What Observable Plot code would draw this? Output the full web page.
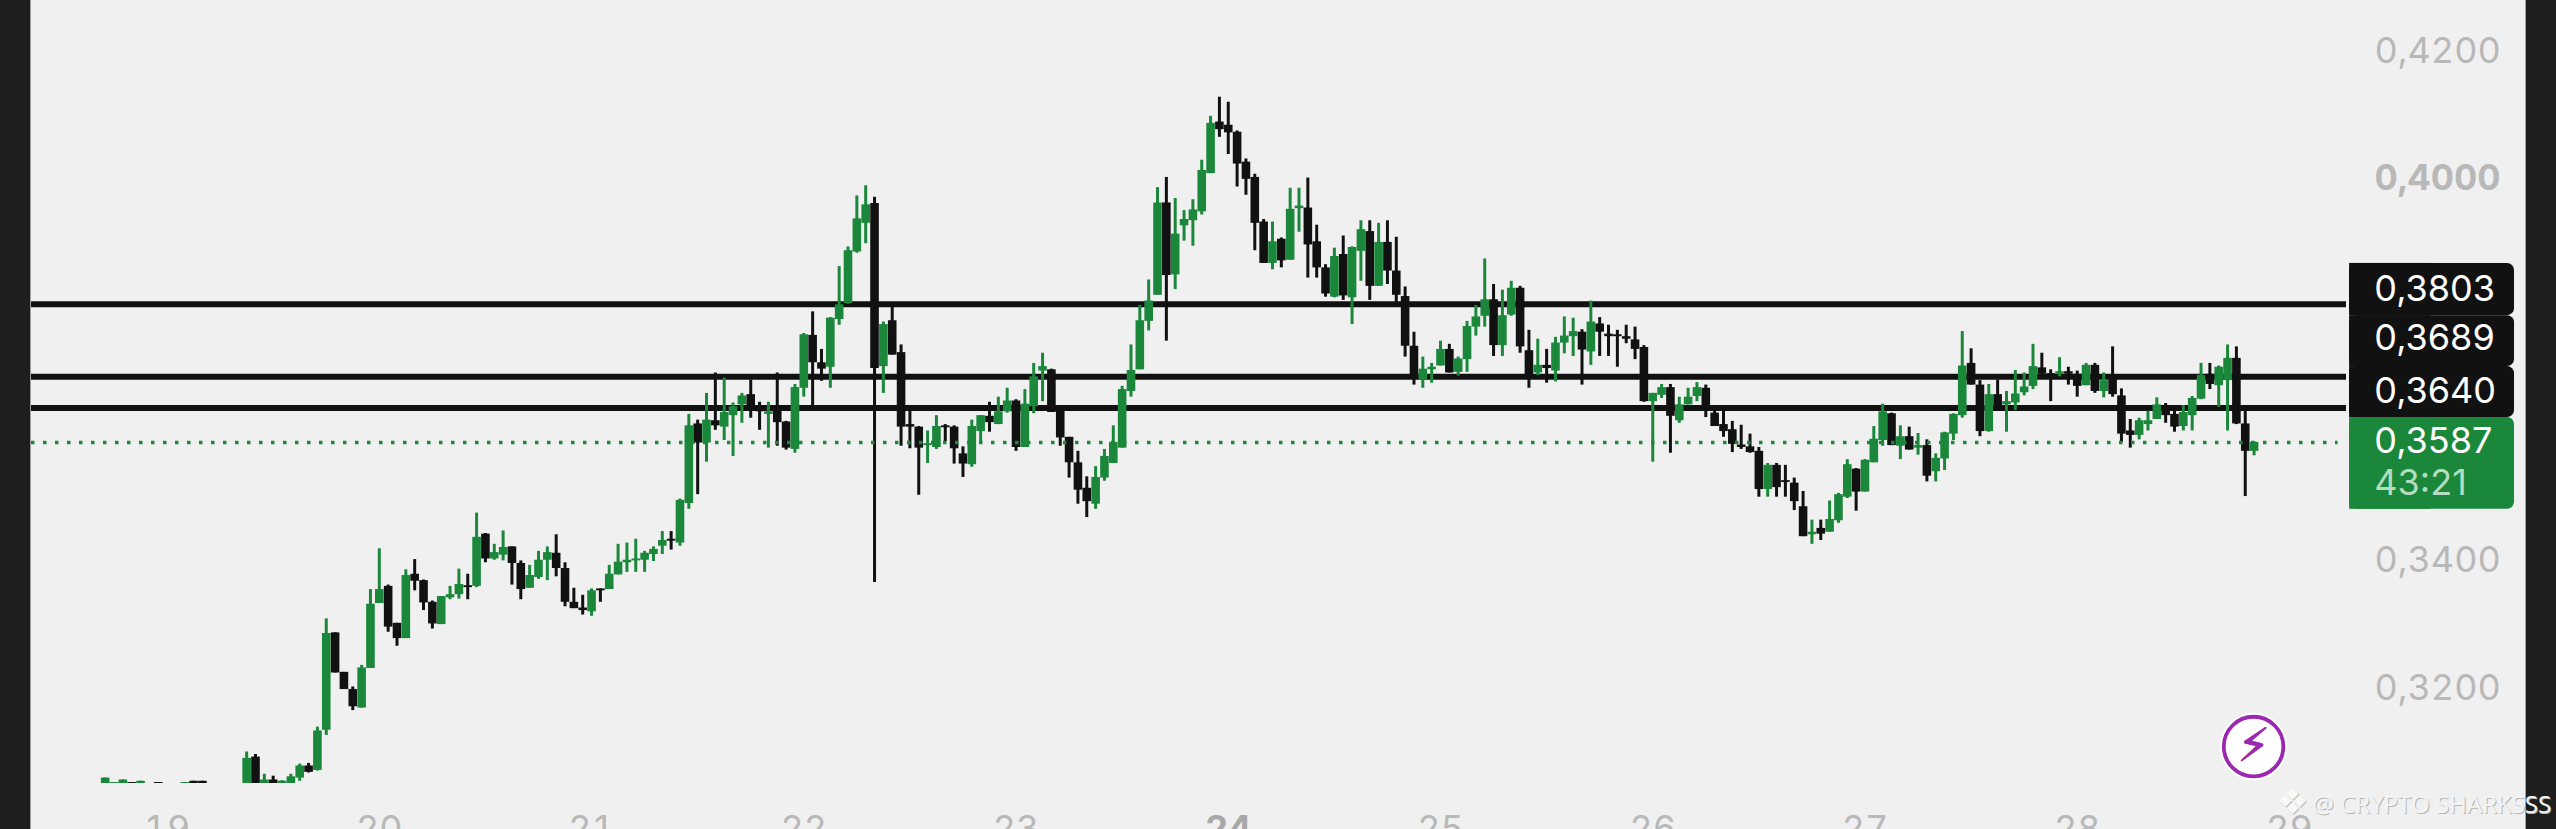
<!DOCTYPE html>
<html>
<head>
<meta charset="utf-8">
<style>html,body{margin:0;padding:0;background:#f0f0f0;overflow:hidden}svg{display:block}</style>
<script src="https://cdn.jsdelivr.net/npm/d3@7"></script>
<script src="https://cdn.jsdelivr.net/npm/@observablehq/plot@0.6"></script>
</head>
<body>
<div id="chart"></div>
<script>
// hours since the start of day 19
const hours = [-7,-6,-5,-4,-3,-1,2,3,4, ...d3.range(9,237)];
// prices in ten-thousandths
const opens = [3040,3040,3040,3052,3040,3052,3040,3054,3054,
3045,3092,3048,3056,3048,3047,3059,3078,3071,3134,
3287,3225,3198,3169,3231,3333,3360,3302,3278,3379,
3369,3335,3300,3342,3347,3361,3360,3442,3403,3409,
3422,3396,3357,3374,3401,3412,3388,3335,3326,3320,
3356,3355,3378,3397,3400,3401,3410,3423,3434,3428,
3490,3615,3585,3620,3610,3628,3645,3661,3642,3630,
3643,3618,3575,3671,3754,3711,3704,3779,3804,3885,
3930,3961,3705,3777,3727,3614,3610,3581,3578,3612,
3610,3568,3551,3603,3627,3614,3634,3651,3578,3642,
3698,3700,3636,3594,3554,3514,3489,3530,3553,3577,
3666,3700,3776,3817,3962,3849,3926,3934,3948,4008,
4089,4084,4073,4026,4002,3932,3867,3905,3872,3953,
3954,3901,3860,3814,3881,3813,3886,3917,3831,3900,
3855,3815,3737,3684,3700,3706,3732,3696,3716,3767,
3784,3810,3738,3786,3828,3730,3695,3707,3698,3742,
3752,3759,3728,3772,3756,3755,3752,3747,3735,3650,
3660,3672,3620,3645,3658,3671,3632,3614,3606,3582,
3579,3572,3512,3550,3526,3522,3485,3441,3451,3445,
3463,3500,3544,3508,3554,3589,3631,3580,3595,3577,
3581,3540,3560,3599,3628,3710,3676,3603,3661,3645,
3648,3664,3674,3703,3694,3693,3697,3693,3675,3707,
3666,3692,3659,3604,3597,3614,3622,3643,3630,3611,
3628,3654,3693,3675,3683,3718,3615,3572];
const closes = [3059,3052,3056,3040,3054,3040,3052,3040,3040,
3090,3045,3056,3048,3054,3061,3078,3068,3133,3286,
3224,3198,3171,3232,3332,3355,3296,3278,3377,3368,
3334,3301,3344,3347,3363,3358,3437,3403,3413,3421,
3396,3355,3377,3401,3413,3388,3335,3325,3322,3353,
3353,3379,3398,3401,3403,3412,3418,3432,3431,3495,
3612,3585,3621,3612,3633,3642,3659,3635,3634,3634,
3617,3577,3672,3755,3711,3701,3781,3802,3887,3937,
3959,3702,3771,3723,3610,3610,3577,3584,3611,3609,
3576,3552,3611,3628,3617,3634,3651,3578,3646,3689,
3705,3633,3593,3554,3511,3493,3531,3564,3586,3669,
3699,3777,3808,3962,3848,3913,3936,3951,4013,4087,
4077,4072,4023,3999,3930,3867,3901,3871,3952,3957,
3896,3860,3819,3878,3816,3892,3920,3831,3900,3855,
3817,3737,3686,3701,3704,3732,3695,3717,3768,3783,
3810,3738,3785,3828,3736,3691,3707,3702,3742,3753,
3760,3731,3775,3759,3752,3752,3748,3732,3650,3663,
3672,3627,3645,3657,3672,3640,3611,3603,3583,3578,
3570,3512,3550,3515,3523,3493,3438,3445,3442,3465,
3504,3551,3508,3558,3591,3634,3581,3595,3574,3581,
3533,3561,3601,3630,3706,3676,3603,3661,3636,3650,
3662,3673,3705,3693,3691,3697,3693,3674,3707,3666,
3683,3661,3599,3597,3620,3620,3645,3628,3610,3633,
3655,3691,3677,3704,3718,3615,3572,3586];
const highs = [3059,3052,3056,3052,3054,3052,3052,3054,3054,
3100,3096,3065,3062,3055,3065,3081,3082,3139,3309,
3287,3225,3202,3236,3355,3419,3362,3302,3386,3402,
3370,3337,3344,3360,3387,3379,3475,3443,3426,3447,
3422,3400,3393,3415,3422,3441,3397,3357,3346,3356,
3356,3393,3426,3428,3434,3415,3422,3446,3446,3497,
3630,3621,3663,3695,3687,3648,3663,3684,3649,3649,
3695,3619,3677,3757,3791,3732,3782,3862,3893,3973,
3989,3971,3775,3801,3739,3636,3611,3604,3628,3614,
3612,3579,3621,3628,3649,3657,3671,3653,3669,3710,
3726,3701,3636,3594,3572,3532,3548,3575,3612,3674,
3739,3801,3841,3986,4002,3969,3950,3967,4029,4098,
4128,4120,4075,4031,4007,3936,3932,3907,3985,3985,
4001,3927,3865,3891,3910,3893,3934,3934,3930,3934,
3908,3830,3759,3720,3710,3745,3740,3720,3776,3801,
3874,3834,3825,3839,3831,3762,3748,3732,3751,3783,
3781,3763,3808,3782,3770,3762,3770,3767,3738,3663,
3677,3677,3657,3671,3680,3676,3635,3636,3619,3613,
3599,3578,3553,3553,3550,3530,3509,3464,3464,3494,
3506,3559,3545,3559,3611,3646,3632,3612,3610,3600,
3590,3568,3602,3631,3760,3733,3683,3677,3684,3666,
3699,3695,3740,3726,3700,3719,3704,3698,3710,3710,
3695,3736,3670,3622,3624,3635,3656,3647,3636,3644,
3658,3710,3710,3706,3739,3736,3636,3587];
const lows = [3035,3035,3035,3035,3035,3035,3035,3035,3035,
3035,3040,3046,3045,3045,3042,3054,3067,3070,3126,
3224,3198,3165,3169,3231,3333,3288,3266,3278,3353,
3322,3293,3300,3339,3340,3339,3358,3397,3401,3400,
3362,3339,3357,3371,3369,3375,3328,3325,3315,3313,
3335,3355,3378,3382,3382,3382,3399,3410,3417,3423,
3481,3504,3555,3605,3589,3564,3616,3624,3605,3577,
3580,3574,3569,3657,3641,3682,3671,3770,3803,3883,
3898,3366,3663,3723,3580,3576,3503,3553,3575,3587,
3552,3531,3547,3586,3602,3614,3632,3572,3578,3631,
3650,3633,3580,3530,3489,3468,3481,3525,3553,3577,
3657,3700,3761,3817,3745,3826,3902,3894,3943,4008,
4065,4038,3987,3974,3887,3867,3857,3860,3872,3916,
3844,3844,3814,3813,3809,3771,3839,3809,3831,3834,
3806,3720,3676,3671,3679,3706,3695,3690,3696,3753,
3767,3721,3721,3784,3726,3671,3691,3679,3681,3725,
3721,3676,3707,3721,3721,3704,3741,3716,3649,3555,
3655,3569,3616,3645,3650,3625,3611,3594,3570,3575,
3569,3500,3500,3500,3500,3479,3438,3426,3432,3445,
3459,3498,3478,3508,3554,3580,3581,3559,3574,3566,
3524,3524,3542,3589,3624,3676,3595,3602,3636,3602,
3636,3659,3669,3685,3650,3689,3676,3657,3675,3663,
3656,3657,3586,3577,3590,3604,3622,3616,3602,3604,
3604,3653,3669,3641,3604,3614,3501,3565];

const dayLabels = ["19","20","21","22","23","24","25","26","27","28","29"];
const dayHours = dayLabels.map((_, i) => i * 24);
const priceTicks = [0.32, 0.34, 0.42];
const boldPriceTicks = [0.40];
const gridPrices = [0.32, 0.34, 0.36, 0.38, 0.40, 0.42];
const levels = [0.3803, 0.3689, 0.3640];
const lastPrice = 0.3586;

const GREEN = "#1a873b", BLACK = "#111111", GREY = "#b8b8b8", FONT = "Inter";
const xHome = 249.6, boxLeft = 246.8, boxRight = 265.45;
const boxes = [
  {top: 0.3867, bottom: 0.3785, fill: BLACK},
  {top: 0.3785, bottom: 0.3705, fill: BLACK},
  {top: 0.3705, bottom: 0.3625, fill: BLACK},
  {top: 0.3625, bottom: 0.3481, fill: GREEN}
];
const boxTexts = [
  {text: "0,3803", y: 0.38265, fill: "#ffffff"},
  {text: "0,3689", y: 0.3749, fill: "#ffffff"},
  {text: "0,3640", y: 0.36665, fill: "#ffffff"},
  {text: "0,3587", y: 0.3587, fill: "#ffffff"},
  {text: "43:21", y: 0.35215, fill: "#b4dcc0"}
];

const candles = hours.map((h, i) => ({
  h, open: opens[i] / 1e4, high: highs[i] / 1e4, low: lows[i] / 1e4, close: closes[i] / 1e4,
  color: closes[i] >= opens[i] ? GREEN : BLACK
}));

const priceFormat = d => d.toFixed(4).replace(".", ",");
const dayFormat = d => dayLabels[dayHours.indexOf(d)];

const chart = Plot.plot({
  width: 2556, height: 829,
  marginLeft: 31, marginRight: 210, marginTop: 0, marginBottom: 46,
  style: {
    fontFamily: FONT,
    background: "linear-gradient(to right,#1e1e1e 30px,#a0a0a0 30px,#a0a0a0 31px,#f0f0f0 31px,#f0f0f0 2525px,#a0a0a0 2525px,#a0a0a0 2526px,#1e1e1e 2526px)"
  },
  x: {domain: [-15.33, 246.45]},
  y: {domain: [0.30505, 0.42798]},
  marks: [
    Plot.ruleY(gridPrices, {stroke: "#eeeeee", strokeWidth: 2}),
    Plot.ruleY(levels, {stroke: BLACK, strokeWidth: 6}),
    Plot.ruleX(candles, {x: "h", y1: "low", y2: "high", stroke: "color", strokeWidth: 3, clip: true}),
    Plot.ruleX(candles, {x: "h", y1: "open", y2: "close", stroke: "color", strokeWidth: 8.6, clip: true}),
    Plot.ruleY([lastPrice], {x1: -15.33, x2: 245.5, stroke: GREEN, strokeWidth: 3.5, strokeDasharray: "3.5,8.5"}),

    Plot.axisX({ticks: dayHours.filter(d => d !== 120), tickFormat: dayFormat, tickSize: 0, tickPadding: 32, fontSize: 36, color: GREY, label: null}),
    Plot.axisX({ticks: [120], tickFormat: dayFormat, tickSize: 0, tickPadding: 32, fontSize: 36, fontWeight: 700, color: "#a8a8a8", label: null}),
    Plot.axisY({anchor: "right", ticks: priceTicks, tickFormat: priceFormat, tickSize: 0, tickPadding: 28, fontSize: 36, color: GREY, label: null}),
    Plot.axisY({anchor: "right", ticks: boldPriceTicks, tickFormat: priceFormat, tickSize: 0, tickPadding: 28, fontSize: 36, fontWeight: 700, color: GREY, label: null}),

    Plot.rect(boxes, {x1: boxLeft, x2: boxRight, y1: "bottom", y2: "top", fill: "fill", rx: 7}),
    Plot.rect(boxes, {x1: boxLeft, x2: 256, y1: "bottom", y2: "top", fill: "fill"}),
    Plot.text(boxTexts, {x: xHome, y: "y", text: "text", fill: "fill", fontSize: 36, textAnchor: "start"}),

    Plot.dot([{h: 235.94, p: 0.31085}], {x: "h", y: "p", r: 33.7, fill: "#ffffff"}),
    Plot.dot([{h: 235.94, p: 0.31085}], {x: "h", y: "p", r: 29.8, fill: "#ffffff", stroke: "#9c27b0", strokeWidth: 3.8}),
    Plot.text([{h: 235.94, p: 0.31085}], {x: "h", y: "p", text: () => "\u26A1", fill: "#9c27b0", stroke: "#9c27b0", strokeWidth: 1, fontSize: 46, fontFamily: "DejaVu Sans"}),

    Plot.text([{h: 240.35, p: 0.3020}], {x: "h", y: "p", text: () => "\u2756", fontFamily: "DejaVu Sans", fontSize: 36, fill: "#bdbdbd", dx: 1, dy: 1}),
    Plot.text([{h: 240.35, p: 0.3020}], {x: "h", y: "p", text: () => "\u2756", fontFamily: "DejaVu Sans", fontSize: 36, fill: "#f8f8f8"}),
    Plot.text([{h: 242.6, p: 0.3017}], {x: "h", y: "p", text: () => "@ CRYPTO SHARKSSS", fontFamily: "Open Sans", fontSize: 24, textAnchor: "start", fill: "#b5b5b5", dx: 1, dy: 1}),
    Plot.text([{h: 242.6, p: 0.3017}], {x: "h", y: "p", text: () => "@ CRYPTO SHARKSSS", fontFamily: "Open Sans", fontSize: 24, textAnchor: "start", fill: "#f4f4f4"})
  ]
});
document.getElementById("chart").append(chart);
</script>
</body>
</html>
